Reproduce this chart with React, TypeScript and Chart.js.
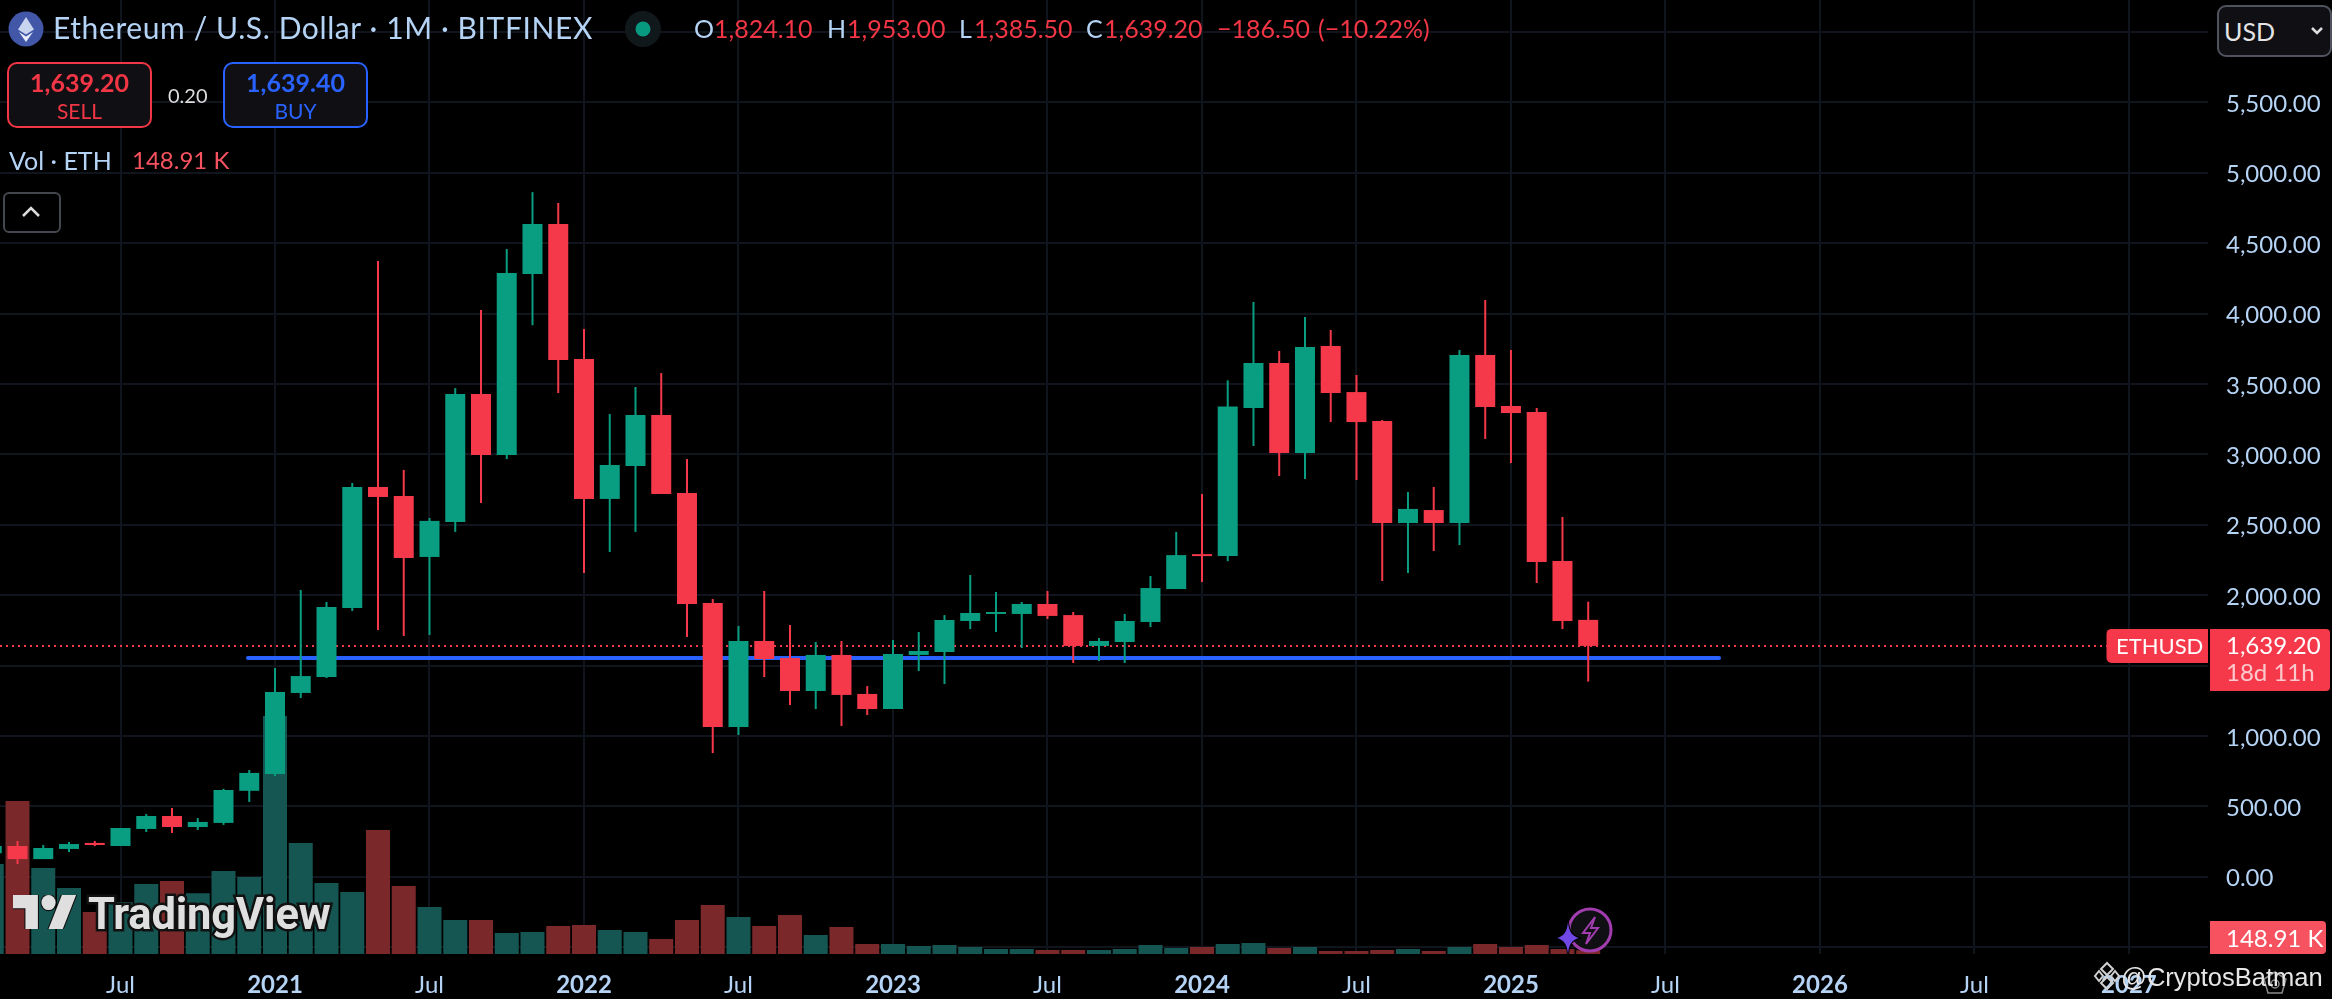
import React, { useEffect, useRef } from 'react';
import { Chart, registerables } from 'chart.js';

Chart.register(...registerables);

const FONT = 'Lato';
const UP = '#099e82';
const DOWN = '#f5394a';
const UP_VOL = '#155652';
const DOWN_VOL = '#7a2829';
const GRID = '#10141c';
const LABEL = '#b5d3f5';

const months = [
  '2020-02', '2020-03', '2020-04', '2020-05', '2020-06', '2020-07', '2020-08', '2020-09', '2020-10', '2020-11', '2020-12',
  '2021-01', '2021-02', '2021-03', '2021-04', '2021-05', '2021-06', '2021-07', '2021-08', '2021-09', '2021-10', '2021-11', '2021-12',
  '2022-01', '2022-02', '2022-03', '2022-04', '2022-05', '2022-06', '2022-07', '2022-08', '2022-09', '2022-10', '2022-11', '2022-12',
  '2023-01', '2023-02', '2023-03', '2023-04', '2023-05', '2023-06', '2023-07', '2023-08', '2023-09', '2023-10', '2023-11', '2023-12',
  '2024-01', '2024-02', '2024-03', '2024-04', '2024-05', '2024-06', '2024-07', '2024-08', '2024-09', '2024-10', '2024-11', '2024-12',
  '2025-01', '2025-02', '2025-03', '2025-04',
];

const opens = [
  166, 218, 125, 197, 240, 218, 339, 431, 353, 382, 610,
  730, 1305, 1418, 1908, 2768, 2704, 2271, 2520, 3428, 2995, 4281, 4636,
  3677, 2683, 2917, 3279, 2725, 1944, 1063, 1674, 1553, 1319, 1575, 1298,
  1191, 1575, 1596, 1816, 1866, 1866, 1937, 1858, 1639, 1667, 1809, 2043,
  2291, 2277, 3329, 3648, 3009, 3769, 3442, 3236, 2512, 2604, 2512, 3705,
  3343, 3300, 2242, 1824.1,
];
const highs = [
  254, 254, 225, 247, 254, 346, 445, 488, 417, 624, 758,
  1482, 2036, 1951, 2796, 4373, 2889, 2548, 3470, 4025, 4458, 4862, 4785,
  3890, 3286, 3478, 3577, 2966, 1972, 1781, 2029, 1788, 1667, 1674, 1354,
  1681, 1738, 1858, 2143, 2022, 1951, 2029, 1880, 1695, 1866, 2136, 2449,
  2718, 3525, 4082, 3734, 3975, 3883, 3563, 3244, 2732, 2768, 3741, 4096,
  3741, 3329, 2555, 1953,
];
const lows = [
  150, 90, 125, 175, 218, 218, 317, 311, 332, 368, 531,
  715, 1269, 1411, 1887, 1752, 1710, 1717, 2449, 2654, 2966, 3917, 3435,
  2157, 2306, 2449, 2718, 1703, 878, 1006, 1418, 1219, 1191, 1070, 1148,
  1191, 1461, 1369, 1759, 1738, 1624, 1830, 1518, 1532, 1518, 1773, 2043,
  2093, 2241, 3059, 2846, 2825, 3229, 2817, 2100, 2157, 2313, 2356, 3109,
  2938, 2086, 1759, 1385.5,
];
const closes = [
  218, 125, 204, 232, 225, 346, 431, 353, 389, 616, 737,
  1312, 1425, 1915, 2768, 2697, 2263, 2527, 3428, 2995, 4288, 4636, 3670,
  2683, 2924, 3279, 2718, 1937, 1063, 1674, 1546, 1319, 1575, 1291, 1191,
  1582, 1603, 1823, 1873, 1880, 1937, 1852, 1639, 1674, 1816, 2050, 2284,
  2277, 3340, 3648, 3009, 3762, 3435, 3229, 2512, 2612, 2512, 3705, 3336,
  3293, 2235, 1816, 1639.2,
];
// thousands of ETH
const volumes = [
  3600, 6120, 3440, 2640, 1680, 2080, 2800, 2920, 2427, 3320, 3080,
  9520, 4440, 2840, 2480, 4960, 2720, 1880, 1360, 1360, 840, 880, 1120,
  1160, 960, 880, 600, 1360, 1960, 1480, 1120, 1560, 760, 1080, 400,
  400, 320, 360, 280, 200, 200, 160, 160, 160, 200, 360, 240,
  280, 400, 440, 240, 280, 120, 120, 160, 200, 120, 280, 400,
  280, 360, 200, 148.91,
];

const priceTicks = [6000, 5500, 5000, 4500, 4000, 3500, 3000, 2500, 2000, 1500, 1000, 500, 0, -500];
const priceTickLabels = ['', '5,500.00', '5,000.00', '4,500.00', '4,000.00', '3,500.00', '3,000.00', '2,500.00', '2,000.00', '', '1,000.00', '500.00', '0.00', ''];
// months counted from Jan 2021
const timeTicks = [-6, 0, 6, 12, 18, 24, 30, 36, 42, 48, 54, 60, 66, 72];
const timeTickLabels = ['Jul', '2021', 'Jul', '2022', 'Jul', '2023', 'Jul', '2024', 'Jul', '2025', 'Jul', '2026', 'Jul', '2027'];

const supportLevel = 1553;
const supportFrom = -1.05;
const supportTo = 56.08;
const lastPrice = 1639.2;
const X_MIN = -10.68;
const X_MAX = 75.07;

const monthIndex = (m: string) => (Number(m.slice(0, 4)) - 2021) * 12 + Number(m.slice(5)) - 1;
const isUp = (i: number) => closes[i] >= opens[i];

const noPadding = (s: any) => {
  s.paddingTop = 0;
  s.paddingBottom = 0;
  s.paddingLeft = 0;
  s.paddingRight = 0;
};

// price tags on the right hand axis, anchored to the scale
const tagsPlugin = {
  id: 'tags',
  afterDraw(chart: any) {
    const { ctx, scales } = chart;
    const y = scales.y.getPixelForValue(lastPrice);
    const volY = scales.vol.getPixelForValue(0);
    ctx.save();
    ctx.textBaseline = 'middle';
    ctx.fillStyle = DOWN;
    ctx.beginPath();
    ctx.roundRect(2106.5, y - 17, 101.5, 34, [5, 0, 0, 5]);
    ctx.fill();
    ctx.beginPath();
    ctx.roundRect(2210, y - 17, 120, 62, [0, 4, 4, 0]);
    ctx.fill();
    ctx.fillStyle = '#f7525f';
    ctx.beginPath();
    ctx.roundRect(2210, volY - 33, 116, 33, [0, 4, 4, 0]);
    ctx.fill();
    ctx.textAlign = 'left';
    ctx.fillStyle = '#ffffff';
    ctx.font = `22px ${FONT}`;
    ctx.fillText('ETHUSD', 2116, y + 1);
    ctx.font = `24px ${FONT}`;
    ctx.fillText('1,639.20', 2226, y);
    ctx.fillText('148.91 K', 2226, volY - 15);
    ctx.fillStyle = '#fbc9cd';
    ctx.fillText('18d 11h', 2226, y + 27);
    ctx.restore();
  },
};

const text = (left: number, top: number, color: string, size = 25, extra: React.CSSProperties = {}) => ({
  position: 'absolute' as const,
  left,
  top,
  color,
  fontSize: size,
  lineHeight: '30px',
  whiteSpace: 'nowrap' as const,
  ...extra,
});

function Header() {
  const o = '#f23645';
  return (
    <>
      <svg style={{ position: 'absolute', left: 8, top: 11 }} width={36} height={36} viewBox="0 0 36 36">
        <circle cx="18" cy="18" r="17.5" fill="#4257a8" />
        <path d="M18 6 L26 18.5 L18 23.5 L10 18.5 Z" fill="#c9d4ee" />
        <path d="M18 25.5 L25 21 L18 31 L11 21 Z" fill="#e6ecf8" />
      </svg>
      <div style={text(53, 12, LABEL, 30, { letterSpacing: 0.6 })}>Ethereum / U.S. Dollar · 1M · BITFINEX</div>
      <svg style={{ position: 'absolute', left: 625, top: 11 }} width={36} height={36} viewBox="0 0 36 36">
        <circle cx="18" cy="18" r="18" fill="#10181c" />
        <circle cx="18" cy="18" r="7.5" fill="#089981" />
      </svg>
      <div style={text(694, 13, LABEL)}>O</div>
      <div style={text(714, 13, o)}>1,824.10</div>
      <div style={text(827, 13, LABEL)}>H</div>
      <div style={text(847, 13, o)}>1,953.00</div>
      <div style={text(959, 13, LABEL)}>L</div>
      <div style={text(974, 13, o)}>1,385.50</div>
      <div style={text(1086, 13, LABEL)}>C</div>
      <div style={text(1104, 13, o)}>1,639.20</div>
      <div style={text(1217, 13, o)}>−186.50</div>
      <div style={text(1318, 13, o)}>(−10.22%)</div>

      <div style={{ position: 'absolute', left: 7, top: 62, width: 141, height: 62, border: '2px solid #f23645', borderRadius: 10, background: '#101014' }} />
      <div style={text(7, 67, o, 25, { width: 145, textAlign: 'center', fontWeight: 700 })}>1,639.20</div>
      <div style={text(7, 96, o, 21, { width: 145, textAlign: 'center' })}>SELL</div>
      <div style={text(168, 80, '#dddddd', 20)}>0.20</div>
      <div style={{ position: 'absolute', left: 223, top: 62, width: 141, height: 62, border: '2px solid #2962ff', borderRadius: 10, background: '#101014' }} />
      <div style={text(223, 67, '#2962ff', 25, { width: 145, textAlign: 'center', fontWeight: 700 })}>1,639.40</div>
      <div style={text(223, 96, '#2962ff', 21, { width: 145, textAlign: 'center' })}>BUY</div>

      <div style={text(9, 145, LABEL)}>Vol · ETH</div>
      <div style={text(132, 145, '#f7525f', 24)}>148.91 K</div>

      <div style={{ position: 'absolute', left: 3, top: 192, width: 54, height: 37, border: '2px solid #45474f', borderRadius: 6 }} />
      <svg style={{ position: 'absolute', left: 21, top: 205 }} width={20} height={14} viewBox="0 0 20 14">
        <path d="M2 11 L10 3 L18 11" fill="none" stroke="#dddddd" strokeWidth={2.5} />
      </svg>

      <div style={{ position: 'absolute', left: 2217, top: 5, width: 111, height: 48, border: '2px solid #50535e', borderRadius: 9, background: '#101014' }} />
      <div style={text(2224, 16, '#e4e4e4', 25)}>USD</div>
      <svg style={{ position: 'absolute', left: 2310, top: 26 }} width={14} height={10} viewBox="0 0 14 10">
        <path d="M2 2 L7 7 L12 2" fill="none" stroke="#dddddd" strokeWidth={2.5} />
      </svg>
    </>
  );
}

function Overlays() {
  return (
    <>
      <svg style={{ position: 'absolute', left: 13, top: 895 }} width={64} height={34} viewBox="0 4 36 18" preserveAspectRatio="none">
        <g fill="#dfdfdf" stroke="#111" strokeWidth={1.2} style={{ paintOrder: 'stroke' }}>
          <path d="M14 22H7V11H0V4h14v18zM28 22h-8l7.5-18h8L28 22z" />
          <circle cx="20" cy="8" r="4" />
        </g>
      </svg>
      <div
        style={{
          position: 'absolute', left: 88, top: 890, fontFamily: 'Roboto', fontWeight: 700, fontSize: 43.5, lineHeight: '50px',
          color: '#dfdfdf', WebkitTextStroke: '5px #111', paintOrder: 'stroke', letterSpacing: -0.2,
        }}
      >
        TradingView
      </div>
      <svg style={{ position: 'absolute', left: 1550, top: 905 }} width={64} height={52} viewBox="0 0 64 52">
        <circle cx="40" cy="25" r="21" fill="#101014" stroke="#a23db0" strokeWidth={3} />
        <path d="M45 12 L33 28 L40 28 L36 39 L48 23 L41 23 Z" fill="none" stroke="#a23db0" strokeWidth={2} />
        <path d="M18 17 C19 27 22 31 29 33 C22 35 19 39 18 49 C17 39 14 35 7 33 C14 31 17 27 18 17 Z" fill="#7048e8" stroke="#000" strokeWidth={2} style={{ paintOrder: 'stroke' }} />
      </svg>
      <svg style={{ position: 'absolute', left: 2093, top: 961 }} width={28} height={30} viewBox="0 0 28 30">
        <g fill="none" stroke="#d0d0d0" strokeWidth={2}>
          <path d="M14 2 L20 8 L14 14 L8 8 Z" />
          <path d="M6 10 L10 15 L6 20 L2 15 Z" />
          <path d="M22 10 L26 15 L22 20 L18 15 Z" />
          <path d="M14 16 L20 22 L14 28 L8 22 Z" />
        </g>
      </svg>
      <svg style={{ position: 'absolute', left: 2262, top: 970 }} width={26} height={26} viewBox="0 0 26 26">
        <path d="M13 2 L24 9 L20 23 L6 23 L2 9 Z" fill="none" stroke="#8a8a8a" strokeWidth={1.5} />
        <circle cx="13" cy="14" r="4" fill="none" stroke="#8a8a8a" strokeWidth={1.5} />
      </svg>
      <div style={text(2121, 962, '#e6e6e6', 25.5, { fontFamily: 'Liberation Sans' })}>@CryptosBatman</div>
    </>
  );
}

export default function App() {
  const ref = useRef<HTMLCanvasElement | null>(null);

  useEffect(() => {
    if (!ref.current) return;
    const xs = months.map(monthIndex);

    const chart = new Chart(ref.current, {
      type: 'bar',
      data: {
        datasets: [
          {
            data: xs.map((x, i) => ({ x, y: [opens[i], closes[i]] })),
            backgroundColor: xs.map((_, i) => (isUp(i) ? UP : DOWN)),
            barThickness: 20,
            order: 1,
          },
          {
            data: xs.map((x, i) => ({ x, y: [lows[i], highs[i]] })),
            backgroundColor: xs.map((_, i) => (isUp(i) ? UP : DOWN)),
            barThickness: 2,
            order: 2,
          },
          {
            type: 'line',
            data: [{ x: supportFrom, y: supportLevel }, { x: supportTo, y: supportLevel }],
            borderColor: '#2962ff',
            borderWidth: 4,
            borderCapStyle: 'round',
            pointRadius: 0,
            order: 3,
          },
          {
            type: 'line',
            data: [{ x: X_MIN, y: lastPrice }, { x: X_MAX, y: lastPrice }],
            borderColor: DOWN,
            borderWidth: 2,
            borderDash: [2, 4],
            pointRadius: 0,
            order: 4,
          },
          {
            data: xs.map((x, i) => ({ x, y: volumes[i] })),
            backgroundColor: xs.map((_, i) => (isUp(i) ? UP_VOL : DOWN_VOL)),
            barThickness: 24,
            yAxisID: 'vol',
            order: 5,
          },
        ] as any,
      },
      options: {
        responsive: false,
        animation: false,
        events: [],
        layout: { padding: 0 },
        datasets: { bar: { grouped: false, borderWidth: 0, inflateAmount: 0, borderSkipped: false } },
        plugins: { legend: { display: false }, tooltip: { enabled: false } },
        scales: {
          x: {
            type: 'linear',
            offset: false,
            min: X_MIN,
            max: X_MAX,
            afterBuildTicks: (s: any) => { s.ticks = timeTicks.map((value) => ({ value })); },
            afterFit: (s: any) => { s.height = 45; noPadding(s); },
            grid: { offset: false, color: GRID, lineWidth: 2, drawTicks: false },
            border: { display: false },
            ticks: {
              autoSkip: false,
              maxRotation: 0,
              padding: 17,
              color: LABEL,
              font: (c: any) => ({ family: FONT, size: 24, weight: timeTickLabels[timeTicks.indexOf(c.tick?.value)] === 'Jul' ? 'normal' : 'bold' }),
              callback: (v: any) => timeTickLabels[timeTicks.indexOf(v)],
            },
          },
          y: {
            position: 'right',
            min: -549,
            max: 6226.6,
            afterBuildTicks: (s: any) => { s.ticks = priceTicks.map((value) => ({ value })); },
            afterFit: (s: any) => { s.width = 124; noPadding(s); },
            grid: { color: GRID, lineWidth: 2, drawTicks: false },
            border: { display: false },
            ticks: {
              autoSkip: false,
              padding: 18,
              labelOffset: 2,
              color: LABEL,
              font: { family: FONT, size: 24 },
              callback: (v: any) => priceTickLabels[priceTicks.indexOf(v)],
            },
          },
          vol: { display: false, min: 0, max: 38160 },
        },
      } as any,
      plugins: [tagsPlugin],
    });

    return () => chart.destroy();
  }, []);

  return (
    <div style={{ position: 'absolute', left: 0, top: 0, width: 2332, height: 999, background: '#000', overflow: 'hidden', fontFamily: FONT }}>
      <canvas ref={ref} width={2332} height={999} style={{ display: 'block' }} />
      <Header />
      <Overlays />
    </div>
  );
}
